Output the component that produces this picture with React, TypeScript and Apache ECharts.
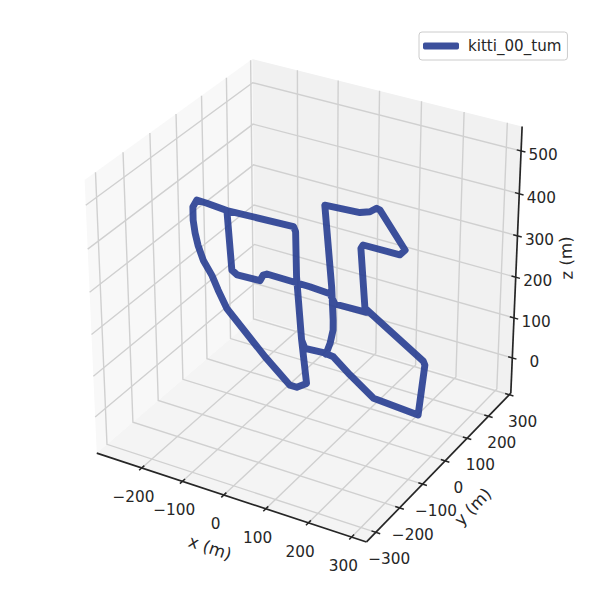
import React, { useEffect, useRef } from "react";
import * as echarts from "echarts";

const seriesName = "kitti_00_tum";
const trajX = [143,68,56,8,-96,-105,-113,-169,-182,-192,-31,-26,-24,-12,0,-24,-41,-102,-196,-217,-232,-253,-265,-272,-276,-276,-266,-241,-192,-31,-26,-24,-12,-4,41,65,105,162,268,281,277,139,128,133,218,230,171,163,148,125,43,60,64,64,57,47];
const trajY = [0,0,0,0,0,0,0,0,0,0,0,0,0,0,0,0,0,0,0,0,0,0,0,0,0,0,0,0,0,0,0,0,0,0,0,0,0,0,0,0,0,0,0,0,0,0,0,0,0,0,0,0,0,0,0,0];
const trajZ = [214,212,233,236,237,232,216,214,222,362,368,357,251,101,-3,-20,-20,32,124,163,195,226,258,287,316,348,367,366,362,368,357,251,101,83,86,83,51,11,3,129,137,223,361,370,371,385,461,463,451,443,438,251,172,148,114,84];
const xTicks = [-200,-100,0,100,200,300];
const yTicks = [-300,-200,-100,0,100,200,300];
const zTicks = [0,100,200,300,400,500];
const xLim = [-312.1,333.9];
const yLim = [-338.7,307.3];
const zLim = [-89.4,556.6];

const U=[0.8660254,0.5,0], V=[-0.25,0.4330127,0.8660254], N=[0.4330127,-0.75,0.5];
const A=0.5501, K=2830, CX=307.3, CY=291.4;
const norm=(v:number,l:number[])=>(2*(v-l[0]))/(l[1]-l[0])-1;
function project(x:number,y:number,z:number):number[]{
  const p=[A*norm(x,xLim),A*norm(y,yLim),A*norm(z,zLim)];
  const d=(a:number[])=>a[0]*p[0]+a[1]*p[1]+a[2]*p[2];
  const w=10-d(N);
  return [CX+K*d(U)/w, CY-K*d(V)/w];
}
const fmt=(v:number)=>(v<0?"\u2212"+(-v):""+v);
const [x0,x1]=xLim,[y0,y1]=yLim,[z0,z1]=zLim;
const panes=[
  {c:"#f8f8f8",p:[[x0,y0,z0],[x0,y1,z0],[x0,y1,z1],[x0,y0,z1]]},
  {c:"#f1f1f1",p:[[x0,y1,z0],[x1,y1,z0],[x1,y1,z1],[x0,y1,z1]]},
  {c:"#f4f4f4",p:[[x0,y0,z0],[x1,y0,z0],[x1,y1,z0],[x0,y1,z0]]},
];
const gridLines=[
  ...xTicks.map(t=>[[t,y0,z0],[t,y1,z0],[t,y1,z1]]),
  ...yTicks.map(t=>[[x1,t,z0],[x0,t,z0],[x0,t,z1]]),
  ...zTicks.map(t=>[[x0,y0,t],[x0,y1,t],[x1,y1,t]]),
];
const axisLines=[
  [[x0,y0,z0],[x1,y0,z0]],
  [[x1,y0,z0],[x1,y1,z0]],
  [[x1,y1,z0],[x1,y1,z1]],
];
const TL=10;
const tickMarks=[
  ...xTicks.map(t=>[[t,y0-TL,z0],[t,y0+TL,z0]]),
  ...yTicks.filter(t=>t>y0+1).map(t=>[[x1-TL,t,z0],[x1+TL,t,z0]]),
  ...zTicks.map(t=>[[x1-TL,y1,t],[x1+TL,y1,t]]),
];
const labels=[
  ...xTicks.map(t=>{const p=project(t,y0,z0);return {t:fmt(t),x:p[0]-8.3,y:p[1]+28.8,r:0,s:15.3};}),
  ...yTicks.map(t=>{const q=project(x1,t,z0);return {t:fmt(t),x:q[0]+13.3,y:q[1]+26.8,r:0,s:15.3};}),
  ...zTicks.map(t=>{const p=project(x1,y1,t);return {t:fmt(t),x:p[0]+22,y:p[1]+4,r:0,s:15.3};}),
  {t:"x (m)",x:210,y:548,r:-0.33,s:16.7},
  {t:"y (m)",x:473,y:507,r:0.8,s:16.7},
  {t:"z (m)",x:566,y:258,r:1.6,s:16.7},
];

const FONT="DejaVu Sans";
const polySeries=(name:string,items:number[][][],stroke:string,lw:number)=>({
  type:"custom",name:name,silent:true,clip:false,
  data:items.map((_,i)=>[i]),
  renderItem:(params:any,api:any)=>({
    type:"polyline",
    shape:{points:items[params.dataIndex].map(q=>{const p=project(q[0],q[1],q[2]);return api.coord(p);})},
    style:{stroke,lineWidth:lw,fill:"none"},
  }),
});

export default function App(){
  const ref=useRef<HTMLDivElement>(null);
  useEffect(()=>{
    document.body.style.margin="0";
    const chart=echarts.init(ref.current!,undefined,{renderer:"svg"});
    const traj=trajX.map((x,i)=>project(x,trajY[i],trajZ[i]));
    chart.setOption({
      animation:false,
      backgroundColor:"#ffffff",
      grid:{left:0,top:0,right:0,bottom:0},
      xAxis:{type:"value",min:0,max:600,show:false},
      yAxis:{type:"value",min:0,max:600,inverse:true,show:false},
      legend:{
        data:[{name:seriesName,icon:"roundRect"}],
        left:419,top:32,padding:[6.5,6,6.5,4],
        itemWidth:36,itemHeight:7,itemGap:0,
        borderColor:"#cccccc",borderWidth:1,borderRadius:3,backgroundColor:"rgba(255,255,255,0.8)",
        textStyle:{fontFamily:FONT,fontSize:15.1,color:"#262626",padding:[0,0,0,4]},
      },
      series:[
        {type:"custom",name:"panes",silent:true,clip:false,data:panes.map((_,i)=>[i]),
          renderItem:(params:any,api:any)=>({type:"polygon",
            shape:{points:panes[params.dataIndex].p.map(q=>api.coord(project(q[0],q[1],q[2])))},
            style:{fill:panes[params.dataIndex].c,stroke:"none"}})},
        polySeries("grid",gridLines,"#d0d0d0",1.4),
        polySeries("axes",axisLines,"#262626",1.7),
        polySeries("ticks",tickMarks,"#262626",1.5),
        {type:"line",name:seriesName,data:traj,symbol:"none",showSymbol:false,smooth:false,clip:false,silent:true,
          lineStyle:{color:"#273d91",width:6.9,opacity:0.9,cap:"round",join:"round"},
          itemStyle:{color:"#273d91",opacity:0.9},z:3},
        {type:"custom",name:"labels",silent:true,clip:false,z:4,data:labels.map((_,i)=>[i]),
          renderItem:(params:any,api:any)=>{const l=labels[params.dataIndex];const c=api.coord([l.x,l.y]);
            return {type:"text",x:c[0],y:c[1],rotation:l.r,
              style:{text:l.t,fill:"#262626",fontFamily:FONT,fontSize:l.s,align:"center",verticalAlign:"middle"}};}},
      ],
    });
    return ()=>chart.dispose();
  },[]);
  return <div ref={ref} style={{width:600,height:600}}/>;
}
